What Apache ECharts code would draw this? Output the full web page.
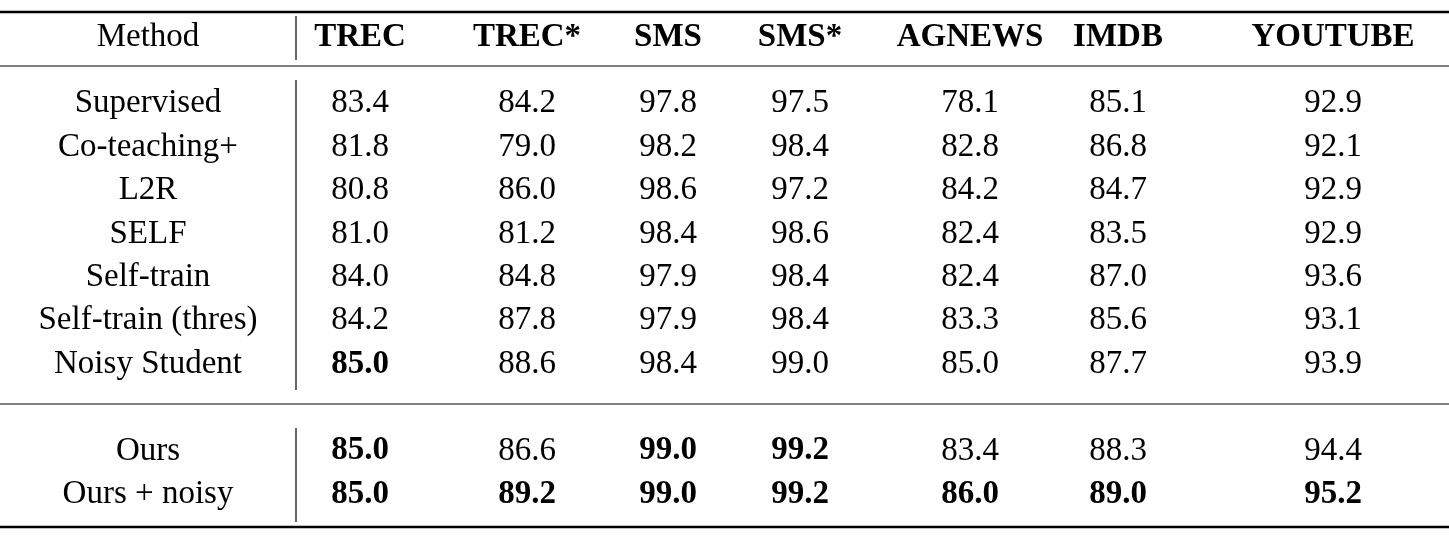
<!DOCTYPE html><html><head><meta charset="utf-8"><script src="https://cdn.jsdelivr.net/npm/echarts@6/dist/echarts.min.js"></script>
<style>html,body{margin:0;padding:0;background:#fff}#c{width:1449px;height:537px}</style></head><body><div id="c"></div><script>
const methods=["Supervised","Co-teaching+","L2R","SELF","Self-train","Self-train (thres)","Noisy Student","","Ours","Ours + noisy"];
const columns=["TREC","TREC*","SMS","SMS*","AGNEWS","IMDB","YOUTUBE"];
const TREC=[83.4,81.8,80.8,81.0,84.0,84.2,85.0,null,85.0,85.0];
const TRECs=[84.2,79.0,86.0,81.2,84.8,87.8,88.6,null,86.6,89.2];
const SMS=[97.8,98.2,98.6,98.4,97.9,97.9,98.4,null,99.0,99.0];
const SMSs=[97.5,98.4,97.2,98.6,98.4,98.4,99.0,null,99.2,99.2];
const AGNEWS=[78.1,82.8,84.2,82.4,82.4,83.3,85.0,null,83.4,86.0];
const IMDB=[85.1,86.8,84.7,83.5,87.0,85.6,87.7,null,88.3,89.0];
const YOUTUBE=[92.9,92.1,92.9,92.9,93.6,93.1,93.9,null,94.4,95.2];
const vals=[TREC,TRECs,SMS,SMSs,AGNEWS,IMDB,YOUTUBE];
// layout
const centers=[148,360,527,668,800,970,1118,1333];
const W=120, F='"Liberation Serif", serif', FS=33;
const grids=[],xA=[],yA=[],series=[];
const cats=methods.map((m,i)=>'r'+i);
centers.forEach((c,k)=>{
  grids.push({left:c-W/2,width:W,top:82,height:434});
  const head=k===0?"Method":columns[k-1];
  xA.push({type:'category',gridIndex:k,position:'top',data:[head],axisLine:{show:false},axisTick:{show:false},
    axisLabel:{margin:28,fontFamily:F,fontSize:FS,color:'#000',fontWeight:k===0?'normal':'bold'}});
  yA.push({type:'category',gridIndex:k,inverse:true,data:cats,show:false});
  let data;
  if(k===0) data=methods.map((m,i)=>m?{value:[head,cats[i]],label:{formatter:m}}:null).filter(Boolean);
  else {const v=vals[k-1];const mx=Math.max(...v.filter(x=>x!=null));
    data=v.map((x,i)=>x==null?null:{value:[head,cats[i]],label:{formatter:x.toFixed(1),fontWeight:x===mx?'bold':'normal'}}).filter(Boolean);}
  series.push({type:'scatter',xAxisIndex:k,yAxisIndex:k,symbolSize:0,silent:true,data,
    itemStyle:{opacity:1},
    label:{show:true,position:'inside',fontFamily:F,fontSize:FS,color:'#000',opacity:1,textBorderWidth:0}});
});
const ln=(x1,y1,x2,y2,w)=>({type:'line',shape:{x1,y1,x2,y2},style:{stroke:'#000',lineWidth:w}});
const chart=echarts.init(document.getElementById('c'));
chart.setOption({animation:false,grid:grids,xAxis:xA,yAxis:yA,series,
  graphic:[ln(0,12,1449,12,2.5),ln(0,66,1449,66,1.2),ln(0,404,1449,404,1.2),ln(0,527,1449,527,2.5),
    ln(296,16,296,60,1.2),ln(296,80,296,390,1.2),ln(296,428,296,522,1.2)]});
</script></body></html>
